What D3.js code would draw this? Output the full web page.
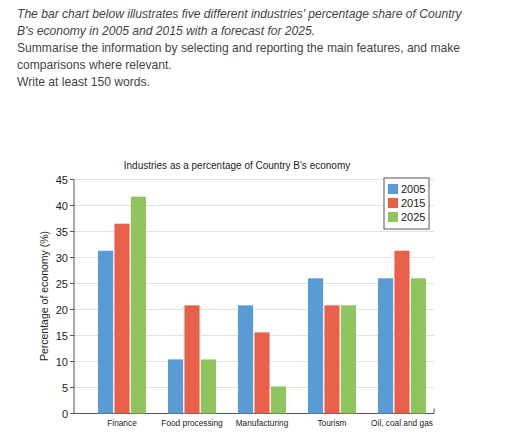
<!DOCTYPE html>
<html><head><meta charset="utf-8">
<script src="https://d3js.org/d3.v7.min.js"></script>
<style>body{margin:0;background:#fff}</style></head>
<body><svg id="c" width="512" height="432"></svg>
<script>
const categories=["Finance","Food processing","Manufacturing","Tourism","Oil, coal and gas"];
const series=["2005","2015","2025"];
const v2005=[31.3,10.4,20.8,26,26];
const v2015=[36.5,20.8,15.6,20.8,31.3];
const v2025=[41.7,10.4,5.2,20.8,26];
const yTicks=[0,5,10,15,20,25,30,35,40,45];
const colors=["#5b9bd5","#e8604a","#8fc45e"];
const values=[v2005,v2015,v2025];
const svg=d3.select("#c");
const nf="'Liberation Sans Narrow','Arial Narrow','Liberation Sans',sans-serif";
const txt=[["The bar chart below illustrates five different industries' percentage share of Country",18,true],
["B's economy in 2005 and 2015 with a forecast for 2025.",35,true],
["Summarise the information by selecting and reporting the main features, and make",52,false],
["comparisons where relevant.",69,false],["Write at least 150 words.",86,false]];
txt.forEach(t=>svg.append("text").attr("x",17).attr("y",t[1]).attr("font-family","Liberation Sans,Arial,sans-serif")
 .attr("font-size",12.1).attr("fill","#444").attr("font-style",t[2]?"italic":"normal").text(t[0]));
const y=d3.scaleLinear().domain([0,45]).range([413.5,179.5]);
const x=d3.scaleBand().domain(categories).range([87,437]);
const xs=d3.scaleBand().domain(series).range([-24,24]).paddingInner(0.08);
const g=svg.append("g");
yTicks.forEach(t=>{ if(t>0) g.append("line").attr("x1",74).attr("x2",434).attr("y1",y(t)).attr("y2",y(t)).attr("stroke","#e2e2e2");
 g.append("line").attr("x1",70).attr("x2",74).attr("y1",y(t)).attr("y2",y(t)).attr("stroke","#555");
 g.append("text").attr("x",68).attr("y",y(t)+4).attr("text-anchor","end").attr("font-family",nf).attr("font-size",11).attr("fill","#222").text(t);});
g.append("line").attr("x1",74).attr("x2",74).attr("y1",y(45)).attr("y2",y(0)).attr("stroke","#555");
g.append("line").attr("x1",74).attr("x2",434).attr("y1",y(0)).attr("y2",y(0)).attr("stroke","#555");
g.append("line").attr("x1",434).attr("x2",434).attr("y1",y(0)).attr("y2",y(0)-5).attr("stroke","#555");
values.forEach((vals,si)=>vals.forEach((v,ci)=>{
 const cx=x(categories[ci])+x.bandwidth()/2;
 g.append("rect").attr("x",cx+xs(series[si])).attr("width",xs.bandwidth()).attr("y",y(v)).attr("height",y(0)-y(v)).attr("fill",colors[si]);
}));
categories.forEach(c=>g.append("text").attr("x",x(c)+x.bandwidth()/2).attr("y",426).attr("text-anchor","middle")
 .attr("font-family",nf).attr("font-size",8.3).attr("fill","#222").text(c));
svg.append("text").attr("x",237).attr("y",169).attr("text-anchor","middle").attr("font-family",nf).attr("font-size",10).attr("fill","#222").text("Industries as a percentage of Country B's economy");
svg.append("text").attr("transform","translate(48,296) rotate(-90)").attr("text-anchor","middle").attr("font-family",nf).attr("font-size",10.5).attr("fill","#222").text("Percentage of economy (%)");
const lg=svg.append("g");
lg.append("rect").attr("x",384).attr("y",178).attr("width",45).attr("height",51).attr("fill","#fff").attr("stroke","#555");
series.forEach((s,i)=>{lg.append("rect").attr("x",388).attr("y",184+i*14).attr("width",10).attr("height",10).attr("fill",colors[i]);
 lg.append("text").attr("x",401).attr("y",193+i*14).attr("font-family",nf).attr("font-size",11).attr("fill","#222").text(s);});
</script></body></html>
